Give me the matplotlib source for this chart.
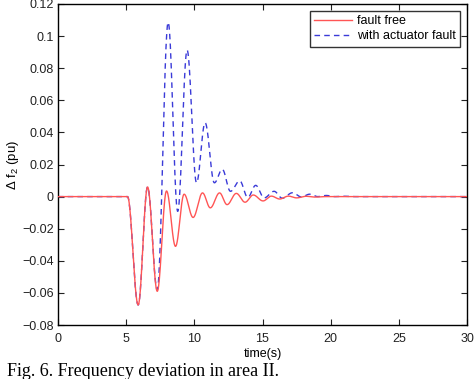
import numpy as np
import matplotlib
matplotlib.use("Agg")
import matplotlib.pyplot as plt

# ---- data (turning points of each response) ----
t_free = [0, 5.1, 5.88, 6.57, 7.28, 7.96, 8.62, 9.25, 9.91, 10.6, 11.17, 11.85,
          12.4, 13.08, 13.72, 14.32, 15.04, 15.65, 16.26, 16.9, 17.5, 18.2, 18.8, 19.6, 30]
v_free = [0, 0, -0.0675, 0.006, -0.059, 0.0035, -0.031, 0.0015, -0.013, 0.0023, -0.007, 0.0023,
          -0.005, 0.002, -0.0035, 0.001, -0.0027, 0.0003, -0.0015, 0.0003, -0.0008, 0.0002, -0.0003, 0, 0]

t_fault = [0, 5.1, 5.88, 6.57, 7.28, 8.08, 8.78, 9.47, 10.16, 10.79, 11.47, 12.05,
           12.65, 13.33, 13.92, 14.5, 15.12, 15.85, 16.45, 17.2, 17.85, 18.46, 19.05,
           19.68, 20.3, 21.0, 21.8, 30]
v_fault = [0, 0, -0.0675, 0.006, -0.058, 0.1086, -0.0092, 0.0913, 0.0086, 0.046, 0.0086, 0.017,
           0.0033, 0.0098, -0.0005, 0.007, -0.0008, 0.0033, -0.001, 0.0024, -0.0002, 0.0015, 0.0,
           0.0007, 0, 0.0002, 0, 0]

x_ticks = [0, 5, 10, 15, 20, 25, 30]
y_ticks = [-0.08, -0.06, -0.04, -0.02, 0, 0.02, 0.04, 0.06, 0.08, 0.1, 0.12]
y_tick_labels = ["\u22120.08", "\u22120.06", "\u22120.04", "\u22120.02", "0",
                 "0.02", "0.04", "0.06", "0.08", "0.1", "0.12"]
legend_labels = ["fault free", "with actuator fault"]


def smooth(tk, vk, n=40):
    """Draw smoothly between the read turning points (half-cosine segments)."""
    ts, vs = [], []
    for i in range(len(tk) - 1):
        s = np.linspace(0, 1, n, endpoint=False)
        w = (1 - np.cos(np.pi * s)) / 2
        ts.append(tk[i] + (tk[i + 1] - tk[i]) * s)
        vs.append(vk[i] + (vk[i + 1] - vk[i]) * w)
    ts.append([tk[-1]])
    vs.append([vk[-1]])
    return np.concatenate(ts), np.concatenate(vs)


plt.rcParams['font.family'] = ['Liberation Sans', 'DejaVu Sans']
plt.rcParams['mathtext.fontset'] = 'custom'
plt.rcParams['mathtext.rm'] = 'Liberation Sans'
plt.rcParams['mathtext.it'] = 'Liberation Sans'

fig = plt.figure(figsize=(4.74, 3.79), dpi=100)
ax = fig.add_axes([58 / 474, 1 - 325 / 379, (467 - 58) / 474, (325 - 4) / 379])

tf, vf = smooth(t_free, v_free)
ta, va = smooth(t_fault, v_fault)
ax.plot(tf, vf, color='#ff5555', lw=1.0, label=legend_labels[0], zorder=3)
ax.plot(ta, va, color='#3a3ad8', lw=1.0, ls=(0, (4, 3)), label=legend_labels[1], zorder=2)

ax.set_xlim(0, 30)
ax.set_ylim(-0.08, 0.12)
ax.set_xticks(x_ticks)
ax.set_xticklabels([str(x) for x in x_ticks])
ax.set_yticks(y_ticks)
ax.set_yticklabels(y_tick_labels)
ax.tick_params(direction='in', top=True, right=True, length=4, width=0.8,
               labelsize=9, colors='#222222')
ax.tick_params(axis='y', pad=3)
ax.tick_params(axis='x', pad=6)
for sp in ax.spines.values():
    sp.set_linewidth(1.0)
    sp.set_color('black')

ax.set_xlabel('time(s)', fontsize=9, labelpad=2)
ax.set_ylabel(r'$\Delta$ f$_2$ (pu)', fontsize=9.5, labelpad=1)

leg = ax.legend(loc='upper right', fontsize=9, frameon=True, fancybox=False,
                edgecolor='black', borderaxespad=0.55, handlelength=3.0,
                borderpad=0.35, labelspacing=0.25, handletextpad=0.4)
leg.get_frame().set_linewidth(1.0)

fig.text(7 / 474, 1 - 376 / 379, 'Fig. 6. Frequency deviation in area II.',
         family='Liberation Serif', fontsize=13, va='baseline', ha='left')

fig.savefig('out.png', dpi=100)
